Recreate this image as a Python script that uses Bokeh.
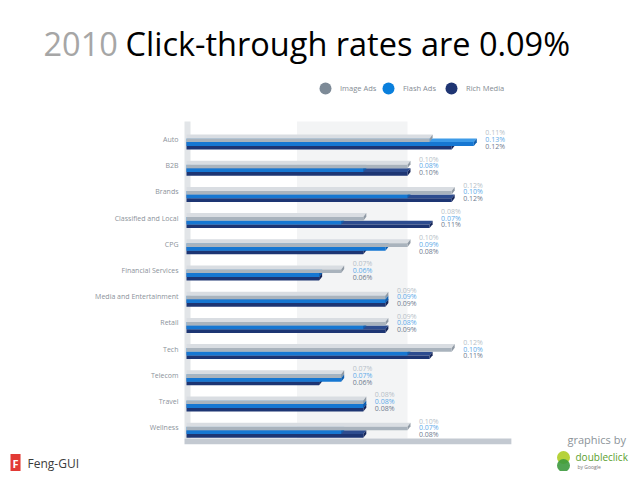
from bokeh.plotting import figure
from bokeh.models import (Range1d, Label, BoxAnnotation, Legend,
                          LegendItem, ColumnDataSource)
from bokeh.core.properties import value
from bokeh.embed import file_html
from bokeh.resources import INLINE

# ---------------- data ----------------
categories = ["Auto", "B2B", "Brands", "Classified and Local", "CPG",
              "Financial Services", "Media and Entertainment", "Retail",
              "Tech", "Telecom", "Travel", "Wellness"]
image_ads = [0.11, 0.10, 0.12, 0.08, 0.10, 0.07, 0.09, 0.09, 0.12, 0.07, 0.08, 0.10]
flash_ads = [0.13, 0.08, 0.10, 0.07, 0.09, 0.06, 0.09, 0.08, 0.10, 0.07, 0.08, 0.07]
rich_media = [0.12, 0.10, 0.12, 0.11, 0.08, 0.06, 0.09, 0.09, 0.11, 0.06, 0.08, 0.08]
series_names = ["Image Ads", "Flash Ads", "Rich Media"]
band_start, band_end = 0.05, 0.10
floor_end = 0.147

title_year = "2010"
title_text = "Click-through rates are 0.09%"

# ---------------- geometry (page pixels -> data) ----------------
FONT = "Open Sans"
W, H = 630, 471                       # canvas (frame covers all of it)
X0_PX, PX_PER_X = 186.0, 2210.0       # page x of value 0, pixels per unit
Y0_PX, PX_PER_Y = 427.2, 26.2         # page y of last category, pixels per category
WALL_L, WALL_R, CHART_TOP = 184, 190, 121


def px2x(px):
    return (px - X0_PX) / PX_PER_X


def px2y(py):
    return (Y0_PX - py) / PX_PER_Y


def dpy(d):  # pixel offset (downward) -> data offset
    return -d / PX_PER_Y


def sx(px):
    return px


def sy(py):
    return H - py


n = len(categories)
cat_y = [n - 1 - i for i in range(n)]   # Auto at top

p = figure(width=W, height=H, output_backend="svg", toolbar_location=None,
           x_range=Range1d(px2x(0), px2x(W)),
           y_range=Range1d(px2y(H), px2y(0)),
           min_border=0, background_fill_color="white", border_fill_color="white")
p.outline_line_color = None
p.grid.visible = False
p.axis.visible = False

# background band, left wall, floor
floor_top = dpy(10.8)
floor_bottom = dpy(16.5)
p.add_layout(BoxAnnotation(left=band_start, right=band_end, bottom=floor_top,
                           top=px2y(CHART_TOP),
                           fill_color="#f3f4f5", fill_alpha=1, line_color=None,
                           level="underlay"))
p.add_layout(BoxAnnotation(left=px2x(WALL_L), right=px2x(WALL_R), bottom=floor_top,
                           top=px2y(CHART_TOP),
                           fill_color="#e2e5e8", fill_alpha=1, line_color=None,
                           level="underlay"))
p.quad(left=[px2x(WALL_L)], right=[floor_end], top=[floor_top], bottom=[floor_bottom],
       fill_color="#c3c9d1", line_color=None)

# category labels
p.text(x=[px2x(178)] * n, y=cat_y, text=categories, text_font=value(FONT),
       text_font_size="7px", text_color="#8b929a", text_align="right",
       text_baseline="middle")

# ---------------- bars (3-D look) ----------------
slant = 3.0 / PX_PER_X
series = [
    # values, top-face px, front px, colours (top, front, side)
    (rich_media, (2.6, 6.4), (6.4, 10.0), ("#2d4c8f", "#1d3573", "#15265a")),
    (flash_ads, (-1.0, 2.6), (2.6, 6.4), ("#3d9be8", "#1677d2", "#0f5fb0")),
    (image_ads, (-5.0, -1.0), (-1.0, 2.6), ("#d9dde2", "#a9b3bd", "#8f99a4")),
]
for vals, tface, front, (c_top, c_front, c_side) in series:
    top_xs, top_ys, side_xs, side_ys = [], [], [], []
    f_top, f_bot = [], []
    for v, y in zip(vals, cat_y):
        ft = y + dpy(front[0])
        fb = y + dpy(front[1])
        tt = y + dpy(tface[0])
        f_top.append(ft)
        f_bot.append(fb)
        top_xs.append([0, v, v + slant, 0])
        top_ys.append([ft, ft, tt, tt])
        side_xs.append([v, v + slant, v + slant, v])
        side_ys.append([ft, tt, tt - (ft - fb), fb])
    p.patches(xs=top_xs, ys=top_ys, fill_color=c_top, line_color=None)
    p.patches(xs=side_xs, ys=side_ys, fill_color=c_side, line_color=None)
    p.quad(left=[0] * n, right=vals, top=f_top, bottom=f_bot,
           fill_color=c_front, line_color=None)

# ---------------- value labels ----------------
label_gap = 0.0052
lab_x = [max(a, b, c) + label_gap for a, b, c in zip(image_ads, flash_ads, rich_media)]
for vals, off, col in [(image_ads, -6.7, "#b7bfc8"), (flash_ads, 0.0, "#5eaae8"),
                       (rich_media, 6.7, "#6f7b8f")]:
    src = ColumnDataSource(dict(x=lab_x, y=[y + dpy(off) for y in cat_y],
                                t=[f"{v:.2f}%" for v in vals]))
    p.text(x="x", y="y", text="t", source=src, text_font=value(FONT),
           text_font_size="7px", text_color=col, text_baseline="middle",
           text_align="left")

# ---------------- title ----------------
p.add_layout(Label(x=sx(43), y=sy(43), x_units="screen", y_units="screen",
                   text=title_year, text_font=FONT, text_font_size="32.5px",
                   text_color="#a6a6a6", text_baseline="alphabetic"))
p.add_layout(Label(x=sx(125), y=sy(43), x_units="screen", y_units="screen",
                   text=title_text, text_font=FONT, text_font_size="32.5px",
                   text_color="#000000", text_baseline="alphabetic"))

# ---------------- legend ----------------
legend_cols = ["#7d8a97", "#0a7fdc", "#1f3573"]
legend_cx = [325, 388, 451]
for name, col, cx in zip(series_names, legend_cols, legend_cx):
    r = p.scatter(x=[float("nan")], y=[float("nan")], marker="circle",
                  fill_color=col, line_color=None)
    lg = Legend(items=[LegendItem(label=name, renderers=[r])],
                location=(sx(cx - 15), sy(87.7 + 15)),
                glyph_width=30, glyph_height=30, label_standoff=0,
                padding=0, margin=0, border_line_color=None,
                background_fill_alpha=0, label_text_font=FONT,
                label_text_font_size="7.5px", label_text_color="#858c94",
                label_height=30)
    p.add_layout(lg)

# ---------------- logos / credits ----------------
p.add_layout(Label(x=sx(10), y=sy(463), x_units="screen", y_units="screen",
                   text="F", text_font=FONT, text_font_size="11px",
                   text_font_style="bold", text_color="white",
                   background_fill_color="#e23a35", text_baseline="middle",
                   padding=2))
p.add_layout(Label(x=sx(27), y=sy(463), x_units="screen", y_units="screen",
                   text="Feng-GUI", text_font=FONT, text_font_size="12px",
                   text_color="#3c3c3c", text_baseline="middle"))
p.add_layout(Label(x=sx(567), y=sy(439), x_units="screen", y_units="screen",
                   text="graphics by", text_font=FONT, text_font_size="11px",
                   text_color="#8c9399", text_baseline="middle"))
p.add_layout(Label(x=sx(575), y=sy(456), x_units="screen", y_units="screen",
                   text="doubleclick", text_font=FONT, text_font_size="10px",
                   text_color="#5a9e2e", text_baseline="middle"))
p.add_layout(Label(x=sx(577), y=sy(466), x_units="screen", y_units="screen",
                   text="by Google", text_font=FONT, text_font_size="5px",
                   text_color="#777777", text_baseline="middle"))
p.scatter(x=[px2x(563)], y=[px2y(457)], size=13, marker="circle",
          fill_color="#b6d23a", line_color=None)
p.scatter(x=[px2x(563)], y=[px2y(465)], size=13, marker="circle",
          fill_color="#3d9a3e", line_color=None, fill_alpha=0.9)

open("out.html", "w").write(file_html(p, INLINE))
